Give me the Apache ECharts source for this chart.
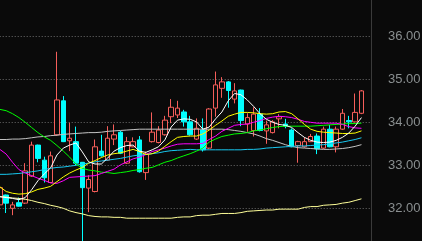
<!DOCTYPE html>
<html>
<head>
<meta charset="utf-8">
<script src="https://cdn.jsdelivr.net/npm/echarts@6/dist/echarts.min.js"></script>
<style>
html,body{margin:0;padding:0;background:#0a0a0a;}
#c{width:422px;height:241px;}
</style>
</head>
<body>
<div id="c"></div>
<script>
// ---- data ----
var categories = ['1','2','3','4','5','6','7','8','9','10','11','12','13','14','15','16','17','18','19','20',
  '21','22','23','24','25','26','27','28','29','30','31','32','33','34','35','36','37','38','39','40',
  '41','42','43','44','45','46','47','48','49','50','51','52','53','54','55','56','57','58'];

var openV  = [32.08,32.31,32.00,32.13,32.12,32.75,33.47,33.12,32.60,33.71,34.50,33.57,33.55,33.07,32.47,32.39,33.33,33.12,33.61,33.77,
  33.05,33.43,33.59,32.83,33.55,33.53,33.71,34.13,34.17,34.24,34.01,33.61,33.82,33.40,34.33,34.79,34.94,34.54,34.75,33.96,
  33.81,34.19,33.80,33.76,34.08,33.96,33.82,33.46,33.43,33.55,33.68,33.40,33.84,33.43,33.84,34.04,34.01,34.21];
var closeV = [32.48,32.12,32.08,32.05,32.87,33.47,33.16,32.71,33.22,34.52,33.55,33.63,33.05,32.48,32.67,33.43,33.22,33.63,33.71,33.28,
  33.55,33.55,32.85,33.26,33.77,33.82,34.05,34.35,34.33,34.01,33.71,33.86,33.36,34.31,34.87,34.94,34.74,34.73,34.04,34.11,
  34.19,33.81,33.94,34.01,34.13,33.91,33.43,33.55,33.55,33.67,33.38,33.84,33.43,33.84,34.21,34.01,34.23,34.73];
var lowV   = [32.05,31.89,31.84,32.04,32.10,32.73,33.07,32.60,32.59,33.69,33.54,33.33,33.00,31.20,31.91,32.37,33.20,33.10,33.47,33.26,
  33.03,33.42,32.83,32.66,33.53,33.51,33.69,33.98,34.10,33.90,33.69,33.59,33.32,33.38,34.13,34.57,34.34,34.44,33.91,33.78,
  33.67,33.79,33.50,33.74,33.86,33.86,33.42,33.06,33.41,33.54,33.26,33.38,33.42,33.30,33.82,33.86,34.00,34.19];
var highV  = [32.50,32.32,32.15,32.25,33.05,33.55,33.48,33.20,33.32,35.64,34.61,33.99,33.90,33.07,32.77,33.60,33.71,33.91,33.95,33.80,
  33.66,33.65,33.68,33.32,34.23,33.91,34.15,34.54,34.50,34.29,34.15,34.09,34.09,34.33,35.18,35.05,34.96,34.91,34.76,34.21,
  34.35,34.33,34.04,34.05,34.19,34.08,33.86,33.57,33.65,33.73,33.74,33.90,33.94,33.90,34.31,34.15,34.67,34.75];

var maWhite = [32.27,32.25,32.23,32.20,32.25,32.43,32.64,32.80,32.94,33.24,33.40,33.47,33.52,33.31,33.08,33.03,33.03,33.17,33.33,33.41,
  33.46,33.47,33.33,33.30,33.36,33.43,33.59,33.89,34.05,34.08,34.07,34.01,33.84,33.89,34.08,34.24,34.50,34.67,34.64,34.52,
  34.37,34.20,34.07,34.00,33.95,33.93,33.88,33.76,33.65,33.58,33.54,33.53,33.54,33.58,33.65,33.75,33.91,34.11];
var maYellow = [32.50,32.39,32.35,32.33,32.34,32.38,32.44,32.47,32.51,32.62,32.73,32.82,32.89,32.95,33.05,33.11,33.18,33.24,33.27,33.29,
  33.33,33.37,33.32,33.25,33.27,33.33,33.44,33.55,33.65,33.67,33.68,33.68,33.73,33.82,33.93,34.03,34.14,34.19,34.23,34.23,
  34.22,34.20,34.19,34.20,34.24,34.25,34.20,34.08,33.95,33.84,33.79,33.77,33.76,33.75,33.74,33.74,33.75,33.80];
var maMagenta = [33.37,33.26,33.07,32.90,32.82,32.76,32.70,32.65,32.59,32.58,32.64,32.72,32.73,32.74,32.75,32.76,32.81,32.86,32.91,33.01,
  33.08,33.15,33.19,33.25,33.32,33.36,33.40,33.45,33.49,33.50,33.50,33.50,33.51,33.60,33.68,33.79,33.86,33.93,33.95,33.96,
  34.00,34.04,34.09,34.12,34.14,34.13,34.11,34.07,34.02,34.00,33.98,33.98,33.98,33.98,33.95,33.90,33.87,33.86];
var maGreen = [34.30,34.27,34.20,34.11,34.00,33.88,33.76,33.66,33.58,33.46,33.33,33.19,33.03,32.93,32.89,32.87,32.84,32.83,32.81,32.83,
  32.85,32.88,32.90,32.93,32.95,33.01,33.07,33.11,33.17,33.22,33.27,33.33,33.40,33.54,33.61,33.67,33.70,33.73,33.74,33.76,
  33.80,33.82,33.85,33.88,33.90,33.91,33.91,33.91,33.91,33.91,33.92,33.93,33.94,33.95,33.96,33.97,33.97,33.98];
var maCyan = [32.79,32.79,32.80,32.81,32.83,32.85,32.87,32.90,32.93,32.95,32.96,32.98,33.00,33.03,33.05,33.08,33.10,33.12,33.14,33.16,
  33.19,33.22,33.24,33.25,33.27,33.29,33.32,33.34,33.35,33.36,33.37,33.36,33.36,33.36,33.36,33.36,33.36,33.36,33.36,33.37,
  33.37,33.38,33.40,33.41,33.42,33.43,33.44,33.45,33.45,33.46,33.47,33.48,33.50,33.52,33.54,33.57,33.60,33.64];
var maGray = [33.60,33.60,33.61,33.61,33.62,33.64,33.66,33.67,33.69,33.70,33.72,33.73,33.74,33.75,33.76,33.76,33.77,33.79,33.80,33.81,
  33.82,33.83,33.84,33.84,33.84,33.84,33.84,33.84,33.84,33.84,33.84,33.84,33.84,33.84,33.84,33.84,33.83,33.81,33.79,33.76,
  33.73,33.68,33.62,33.58,33.53,33.48,33.44,33.41,33.40,33.39,33.38,33.37,33.37,33.38,33.39,33.41,33.44,33.48];
var maPale = [32.27,32.26,32.24,32.23,32.21,32.18,32.14,32.11,32.07,32.04,32.00,31.94,31.90,31.87,31.83,31.81,31.80,31.80,31.79,31.79,
  31.77,31.77,31.77,31.77,31.77,31.77,31.77,31.77,31.79,31.80,31.80,31.83,31.84,31.84,31.86,31.88,31.88,31.88,31.90,31.93,
  31.94,31.95,31.96,31.96,31.98,31.98,31.98,31.98,32.02,32.04,32.04,32.07,32.08,32.09,32.12,32.14,32.18,32.22];

var yTicks = [31, 32, 33, 34, 35, 36, 37];

// ---- chart ----
var candleData = categories.map(function (c, i) {
  return [openV[i], closeV[i], lowV[i], highV[i]];
});

function maLine(name, data, color) {
  return {
    name: name, type: 'line', data: data, symbol: 'none', smooth: false,
    silent: true, z: 5, animation: false,
    lineStyle: { width: 1, color: color }
  };
}

var chart = echarts.init(document.getElementById('c'), null, { renderer: 'canvas' });
chart.setOption({
  backgroundColor: '#0a0a0a',
  animation: false,
  grid: { left: -3.3, right: 51, top: -6.7, bottom: -10.3, containLabel: false, outerBoundsMode: 'none' },
  xAxis: {
    type: 'category', data: categories, max: categories.length,
    boundaryGap: true,
    axisLine: { show: false }, axisTick: { show: false }, axisLabel: { show: false },
    splitLine: { show: false }
  },
  yAxis: {
    type: 'value', position: 'right',
    min: yTicks[0], max: yTicks[yTicks.length - 1], interval: 1,
    axisLine: { show: true, lineStyle: { color: '#3a3a3a', width: 1 } },
    axisTick: { show: false },
    axisLabel: {
      margin: 17, color: '#8a8f90', fontSize: 13,
      fontFamily: 'Liberation Sans, Arial, sans-serif',
      formatter: function (v) { return v.toFixed(2); }
    },
    splitLine: { show: true, lineStyle: { color: '#6e6e6e', width: 1, type: [1, 2] } }
  },
  series: [
    {
      type: 'candlestick', data: candleData, barWidth: 5, z: 3,
      itemStyle: {
        color: '#0a0a0a', borderColor: '#f65e5a',
        color0: '#00ffff', borderColor0: '#00ffff', borderWidth: 1
      }
    },
    maLine('gray', maGray, '#c4c4c4'),
    maLine('pale', maPale, '#ffff99'),
    maLine('cyan', maCyan, '#18c8f0'),
    maLine('green', maGreen, '#00ff00'),
    maLine('magenta', maMagenta, '#ff00ff'),
    maLine('yellow', maYellow, '#ffff00'),
    maLine('white', maWhite, '#ffffff')
  ]
});
</script>
</body>
</html>
